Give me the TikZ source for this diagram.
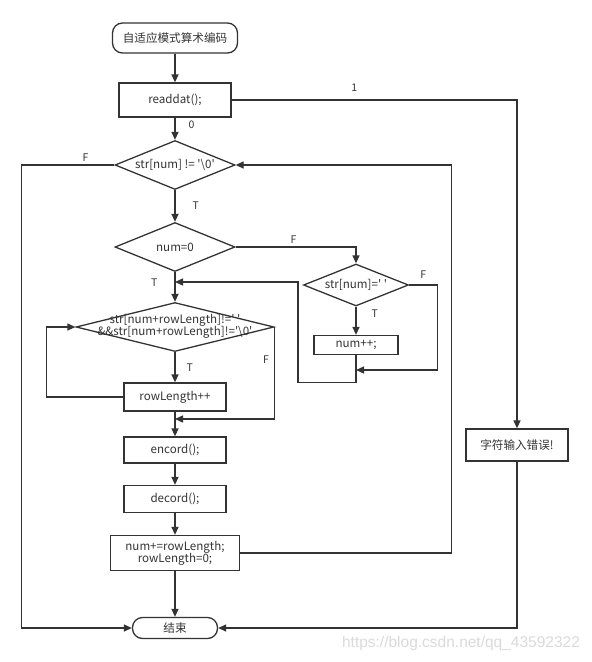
\documentclass[tikz,border=0pt]{standalone}
\usepackage{fontspec}
\newfontfamily\flowfont{Noto Sans CJK SC}
\newfontfamily\markfont{Liberation Sans}
\definecolor{lineGray}{RGB}{51, 51, 51}
\usepackage{tikz}
\usetikzlibrary{positioning, calc, shapes.geometric, arrows.meta}

\newcommand{\zw}[1]{\makebox[0pt]{#1}}

\begin{document}
\begin{tikzpicture}[
    x=1pt, y=-1pt,
    every node/.style={font=\flowfont\fontsize{11.6}{14}\selectfont, text=lineGray},
    term/.style={rectangle, draw=lineGray, line width=1.3pt, rounded corners=10pt,
                 minimum width=125pt, minimum height=30pt, inner sep=1pt},
    proc/.style={rectangle, draw=lineGray, line width=1.3pt, align=center,
                 minimum width=102pt, minimum height=27pt, inner sep=1pt},
    cond/.style={diamond, draw=lineGray, line width=1.3pt, inner sep=0pt,
                 minimum width=120pt, minimum height=49pt},
    flow/.style={-{Triangle[length=8pt, width=7pt]}, draw=lineGray, line width=1.3pt},
    lbl/.style={font=\flowfont\fontsize{10.5}{12}\selectfont, inner sep=3pt},
  ]
    \useasboundingbox (0,0) rectangle (592,662);

    \node[term] (start) at (175,38) {自适应模式算术编码};
    \node[proc, minimum width=112pt, minimum height=34pt] (read) at (175,100) {readdat();};
    \node[cond] (loop) at (175,165) {\zw{str[num] != '\textbackslash 0'}};
    \node[cond] (zero) at (175,247) {\zw{num=0}};
    \node[cond, minimum width=105pt, minimum height=42pt] (space) at (356,285) {\zw{str[num]=' '}};
    \node[proc, minimum width=84pt, minimum height=19pt] (inc) at (356,345) {num++;};
    \node[cond, minimum width=198pt] (scan) at (175,327)
      {\zw{\begin{tabular}{@{}c@{}}str[num+rowLength]!=' '\\[-2pt]\&\&str[num+rowLength]!='\textbackslash 0'\end{tabular}}};
    \node[proc, minimum height=28pt] (grow) at (175,397) {rowLength++};
    \node[proc, minimum height=26pt] (enc) at (175,450) {encord();};
    \node[proc] (dec) at (175,499) {decord();};
    \node[proc, minimum width=129pt, minimum height=35pt] (next) at (175,553)
      {num+=rowLength;\\[-2pt]rowLength=0;};
    \node[term, minimum width=85pt, minimum height=21pt] (stop) at (175,628) {结束};
    \node[proc, minimum height=32pt] (err) at (517,445) {字符输入错误!};

    \coordinate (join) at (175,282);
    \coordinate (back) at (356,370);
    \coordinate (after) at (175,419);

    \draw[flow] (start) -- (read);
    \draw[flow] (read) -- node[lbl, pos=0.3, right=10pt] {0} (loop);
    \draw[flow] (read.east) -| (err.north)
      node[lbl, pos=0.215, above=5pt] {1};
    \draw[flow] (loop.west) -- node[lbl, pos=0.31, above] {F} ++(-93,0) |- (stop.west);
    \draw[flow] (loop) -- node[lbl, right=14pt] {T} (zero);
    \draw[flow] (next.east) -- ++(211,0) |- (loop.east);
    \draw[flow] (zero.east) -| (space.north)
      node[lbl, pos=0.24, above] {F};
    \draw[flow] (zero) -- node[lbl, pos=0.35, left=14pt] {T} (scan);
    \draw[flow] (space) -- node[lbl, pos=0.25, right=12pt] {T} (inc);
    \draw[flow] (space.east) -- node[lbl, pos=0.5, above=3pt] {F} ++(28,0) |- (back);
    \draw[flow] (inc.south) -- ++(0,27) -- ++(-58,0) |- (join);
    \draw[flow] (scan) -- node[lbl, right=8pt] {T} (grow);
    \draw[flow] (grow.west) -- ++(-77,0) |- (scan.west);
    \draw[flow] (scan.east) |- node[lbl, pos=0.18, left=2pt] {F} (after);
    \draw[flow] (grow) -- (enc);
    \draw[flow] (enc) -- (dec);
    \draw[flow] (dec) -- (next);
    \draw[flow] (next) -- (stop);
    \draw[flow] (err) |- (stop.east);

    \node[font=\markfont\fontsize{15.5}{18}\selectfont, text=lineGray!18] (mark) at (461,643)
      {https://blog.csdn.net/qq\_43592322};
  \end{tikzpicture}
\end{document}
